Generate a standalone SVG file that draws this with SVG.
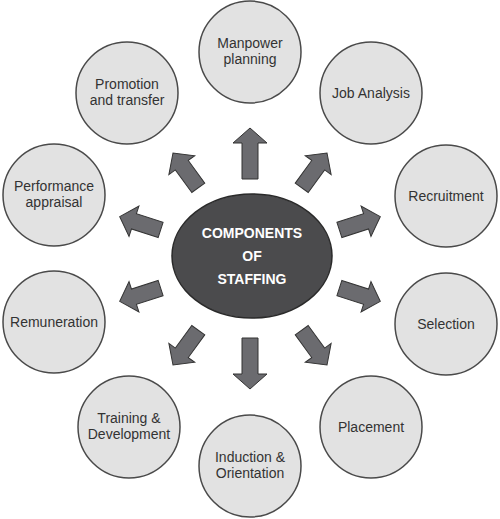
<svg xmlns="http://www.w3.org/2000/svg" width="500" height="519" viewBox="0 0 500 519">
<style>
.node circle{fill:#e2e2e2;stroke:#4a4a4a;stroke-width:1.5}
.node text{font-family:"Liberation Sans",Arial,sans-serif;font-size:14px;fill:#333;text-anchor:middle}
.arrow{fill:#6b6b6f;stroke:#333;stroke-width:1}
.center text{font-family:"Liberation Sans",Arial,sans-serif;font-size:14px;font-weight:bold;fill:#fff;text-anchor:middle}
</style>
<defs>
<polygon id="arrV" points="0,-8 36,-8 36,-17 51,0 36,17 36,8 0,8"/>
<polygon id="arrS" points="0,-8 28,-8 28,-16 43,0 28,16 28,8 0,8"/>
</defs>
<rect width="500" height="519" fill="#fff"/>
<g id="connectors">
<use href="#arrV" class="arrow" transform="translate(250,259) rotate(-90) translate(80,0)"/>
<use href="#arrV" class="arrow" transform="translate(250,259) rotate(90) translate(79,0)"/>
<use href="#arrS" class="arrow" transform="translate(250,259) rotate(-54) translate(88,0)"/>
<use href="#arrS" class="arrow" transform="translate(250,259) rotate(-126) translate(88,0)"/>
<use href="#arrS" class="arrow" transform="translate(250,259) rotate(54) translate(88,0)"/>
<use href="#arrS" class="arrow" transform="translate(250,259) rotate(126) translate(88,0)"/>
<use href="#arrS" class="arrow" transform="translate(250,259) rotate(-18) translate(94,0)"/>
<use href="#arrS" class="arrow" transform="translate(250,259) rotate(18) translate(94,0)"/>
<use href="#arrS" class="arrow" transform="translate(250,259) rotate(162) translate(94,0)"/>
<use href="#arrS" class="arrow" transform="translate(250,259) rotate(198) translate(94,0)"/>
</g>
<g id="center" class="center">
<ellipse cx="252" cy="256" rx="80" ry="62" fill="#4b4b4d" stroke="#2a2a2a" stroke-width="1.5"/>
<text x="252" y="238">COMPONENTS</text>
<text x="252" y="261">OF</text>
<text x="252" y="284">STAFFING</text>
</g>
<g id="manpower" class="node"><circle cx="250" cy="52" r="51"/><text x="250" y="48">Manpower</text><text x="250" y="64">planning</text></g>
<g id="job-analysis" class="node"><circle cx="371" cy="93" r="51"/><text x="371" y="98">Job Analysis</text></g>
<g id="recruitment" class="node"><circle cx="446" cy="196" r="51"/><text x="446" y="201">Recruitment</text></g>
<g id="selection" class="node"><circle cx="446" cy="324" r="51"/><text x="446" y="329">Selection</text></g>
<g id="placement" class="node"><circle cx="371" cy="427" r="51"/><text x="371" y="432">Placement</text></g>
<g id="induction" class="node"><circle cx="250" cy="466" r="51"/><text x="250" y="462">Induction &amp;</text><text x="250" y="478">Orientation</text></g>
<g id="training" class="node"><circle cx="129" cy="427" r="51"/><text x="129" y="423">Training &amp;</text><text x="129" y="439">Development</text></g>
<g id="remuneration" class="node"><circle cx="54" cy="322" r="51"/><text x="54" y="327">Remuneration</text></g>
<g id="performance" class="node"><circle cx="54" cy="195" r="51"/><text x="54" y="191">Performance</text><text x="54" y="207">appraisal</text></g>
<g id="promotion" class="node"><circle cx="127" cy="93" r="51"/><text x="127" y="89">Promotion</text><text x="127" y="105">and transfer</text></g>
</svg>
